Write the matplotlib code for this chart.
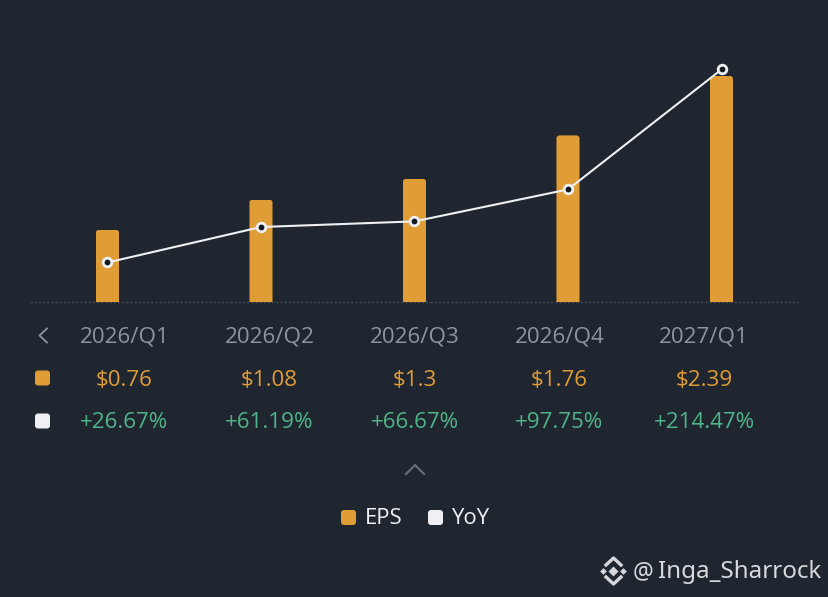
import matplotlib
matplotlib.use("Agg")
import matplotlib.pyplot as plt
from matplotlib.patches import FancyBboxPatch
from matplotlib.transforms import IdentityTransform

periods = ["2026/Q1", "2026/Q2", "2026/Q3", "2026/Q4", "2027/Q1"]
eps = [0.76, 1.08, 1.3, 1.76, 2.39]
eps_labels = ["$0.76", "$1.08", "$1.3", "$1.76", "$2.39"]
yoy = [26.67, 61.19, 66.67, 97.75, 214.47]
yoy_labels = ["+26.67%", "+61.19%", "+66.67%", "+97.75%", "+214.47%"]
legend_names = ["EPS", "YoY"]

BG = "#20262F"
ORANGE = "#E09C35"
WHITE = "#EEF0F4"
GREEN = "#4FB488"
GRAY = "#8E949D"

plt.rcParams["font.family"] = ["Open Sans", "DejaVu Sans"]
W, H = 829, 597
fig = plt.figure(figsize=(W / 100, H / 100), dpi=100, facecolor=BG)

ov = fig.add_axes([0, 0, 1, 1], zorder=0)
ov.set_xlim(0, W)
ov.set_ylim(H, 0)
ov.axis("off")

ax = fig.add_axes([30.5 / W, (H - 301.5) / H, 768 / W, 301.5 / H], zorder=1)
ax.patch.set_alpha(0)
xs = list(range(len(periods)))
ax.set_xlim(-0.5016, 4.5016)
ax.set_ylim(0, 3.195)
for s in ax.spines.values():
    s.set_visible(False)
ax.set_xticks([])
ax.set_yticks([])
ax.axhline(0, color="#454B55", lw=1, ls=(0, (1.5, 1.5)), clip_on=False)
bars = ax.bar(xs, eps, width=0.15, color=ORANGE, zorder=2)

fig.canvas.draw()
r = 3
for b in bars:
    e = b.get_window_extent()
    clip = FancyBboxPatch((e.x0 + r, e.y0 - 10), e.width - 2 * r, e.height + 10 - r,
                          boxstyle=f"round,pad={r},rounding_size={r}",
                          transform=IdentityTransform())
    b.set_clip_path(clip)

ax2 = ax.twinx()
ax2.patch.set_alpha(0)
ax2.set_ylim(-11.29, 282.1)
for s in ax2.spines.values():
    s.set_visible(False)
ax2.set_yticks([])
ax2.plot(xs, yoy, color=WHITE, lw=1.5, marker="o", ms=6.2, mfc="#14181F",
         mec=WHITE, mew=2.0, clip_on=False, zorder=3)

FS = 16.1
col_x = [124.5, 269.5, 414.5, 559.5, 704]
for cx, p, e, y in zip(col_x, periods, eps_labels, yoy_labels):
    ov.text(cx, 337, p, color=GRAY, fontsize=FS, ha="center", va="center")
    ov.text(cx, 380, e.replace("$", r"\$"), color=ORANGE, fontsize=FS, ha="center", va="center")
    ov.text(cx, 423, y, color=GREEN, fontsize=FS, ha="center", va="center")


def swatch(cx, cy, color, size=15, rad=3):
    ov.add_patch(FancyBboxPatch((cx - size / 2 + rad, cy - size / 2 + rad), size - 2 * rad, size - 2 * rad,
                                boxstyle=f"round,pad={rad},rounding_size={rad}",
                                fc=color, ec="none"))


swatch(42.5, 378, ORANGE)
swatch(42.5, 421, WHITE)
ov.plot([47, 39.5, 47], [328.5, 335.5, 342.5], color=GRAY, lw=1.3)
ov.plot([406, 415, 424], [474, 465, 474], color="#666B74", lw=1.6)

swatch(348.5, 517.5, ORANGE)
swatch(435.5, 517.5, WHITE)
ov.text(364.5, 519, legend_names[0], color=WHITE, fontsize=16, ha="left", va="center")
ov.text(451.5, 519, legend_names[1], color=WHITE, fontsize=16, ha="left", va="center")

# watermark
WM = "#D6D8DC"
for cx, cy, s in [(613.5, 571, 5), (603.5, 571, 3.4), (623.5, 571, 3.4)]:
    ov.plot([cx], [cy], marker="D", ms=s, color=WM, mec="none")
ov.plot([606, 613.5, 621], [565, 558, 565], color=WM, lw=2.4)
ov.plot([606, 613.5, 621], [577, 584, 577], color=WM, lw=2.4)
ov.text(633, 572, "@", color=WM, fontsize=16.5, ha="left", va="center", family="Noto Sans")
ov.text(658, 572.5, "Inga_Sharrock", color=WM, fontsize=17.4, ha="left", va="center", family="Noto Sans")

fig.savefig("out.png", dpi=100, facecolor=BG)
